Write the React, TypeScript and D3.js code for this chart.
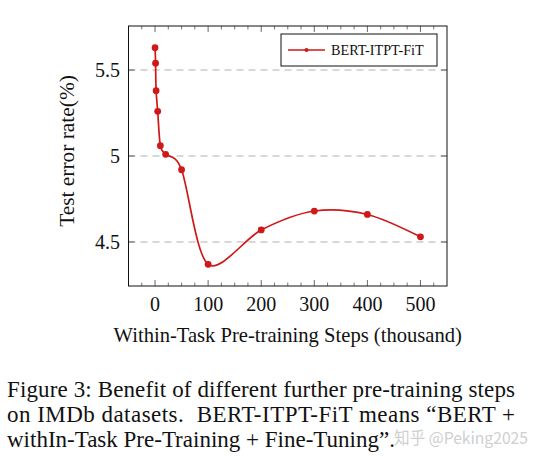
import React from "react";
import * as d3 from "d3";

// within-task pre-training steps (thousand) and test error rate (%)
const steps = [0, 1, 2, 5, 10, 20, 50, 100, 200, 300, 400, 500];
const errorRate = [5.63, 5.54, 5.38, 5.26, 5.06, 5.01, 4.92, 4.37, 4.57, 4.68, 4.66, 4.53];

const xTicks = [0, 100, 200, 300, 400, 500];
const yTicks = [4.5, 5, 5.5];
const yTickLabels = ["4.5", "5", "5.5"];
const seriesName = "BERT-ITPT-FiT";

const captionLines = [
  "Figure 3: Benefit of different further pre-training steps",
  "on IMDb datasets.  BERT-ITPT-FiT means \u201cBERT +",
  "withIn-Task Pre-Training + Fine-Tuning\u201d.",
];
const watermark = "知乎 @Peking2025";

const W = 547;
const H = 465;
const box = { left: 128.5, right: 447, top: 26, bottom: 286 };
const serif = "'Liberation Serif', 'Times New Roman', serif";
const red = "#d01818";

const App: React.FC = () => {
  const x = d3.scaleLinear().domain([-50, 550]).range([box.left, box.right]);
  const y = d3.scaleLinear().domain([4.244, 5.756]).range([box.bottom, box.top]);

  const pts: [number, number][] = steps.map((s, i) => [x(s), y(errorRate[i])]);
  const line = d3.line().curve(d3.curveCardinal.tension(0.09));
  const path = line(pts) || "";

  const minorTicks = d3.range(-25, 550, 25).filter((v) => v % 100 !== 0);

  return (
    <svg
      width={W}
      height={H}
      viewBox={`0 0 ${W} ${H}`}
      style={{ position: "absolute", left: 0, top: 0, background: "#fff" }}
    >
      {/* grid */}
      {yTicks.map((t) => (
        <line
          key={"g" + t}
          x1={box.left}
          x2={box.right}
          y1={y(t)}
          y2={y(t)}
          stroke="#a8a8a8"
          strokeWidth={0.9}
          strokeDasharray="7 5"
        />
      ))}

      {/* x ticks, top and bottom */}
      {minorTicks.map((t) => (
        <g key={"m" + t} stroke="#555" strokeWidth={0.8}>
          <line x1={x(t)} x2={x(t)} y1={box.bottom} y2={box.bottom - 3.5} />
          <line x1={x(t)} x2={x(t)} y1={box.top} y2={box.top + 3.5} />
        </g>
      ))}
      {xTicks.map((t) => (
        <g key={"M" + t} stroke="#444" strokeWidth={0.8}>
          <line x1={x(t)} x2={x(t)} y1={box.bottom} y2={box.bottom - 6} />
          <line x1={x(t)} x2={x(t)} y1={box.top} y2={box.top + 6} />
        </g>
      ))}
      {/* y ticks, left and right */}
      {yTicks.map((t) => (
        <g key={"y" + t} stroke="#444" strokeWidth={0.8}>
          <line x1={box.left} x2={box.left + 6} y1={y(t)} y2={y(t)} />
          <line x1={box.right} x2={box.right - 6} y1={y(t)} y2={y(t)} />
        </g>
      ))}

      {/* frame */}
      <rect
        x={box.left}
        y={box.top}
        width={box.right - box.left}
        height={box.bottom - box.top}
        fill="none"
        stroke="#111"
        strokeWidth={1}
      />

      {/* series */}
      <path d={path} fill="none" stroke={red} strokeWidth={1.7} />
      {pts.map(([px, py], i) => (
        <circle key={"p" + i} cx={px} cy={py} r={3.4} fill={red} />
      ))}

      {/* tick labels */}
      {xTicks.map((t) => (
        <text
          key={"xl" + t}
          x={x(t)}
          y={311}
          textAnchor="middle"
          fontFamily={serif}
          fontSize={20}
          fill="#111"
        >
          {t}
        </text>
      ))}
      {yTicks.map((t, i) => (
        <text
          key={"yl" + t}
          x={120}
          y={y(t) + 7}
          textAnchor="end"
          fontFamily={serif}
          fontSize={20}
          fill="#111"
        >
          {yTickLabels[i]}
        </text>
      ))}

      {/* axis titles */}
      <text
        x={(box.left + box.right) / 2}
        y={342}
        textAnchor="middle"
        fontFamily={serif}
        fontSize={20.6}
        fill="#111"
      >
        Within-Task Pre-training Steps (thousand)
      </text>
      <text
        transform={`translate(74,151) rotate(-90)`}
        textAnchor="middle"
        fontFamily={serif}
        fontSize={21.4}
        fill="#111"
      >
        Test error rate(%)
      </text>

      {/* legend */}
      <rect x={281} y={34} width={156} height={32} fill="#fff" stroke="#111" strokeWidth={1} />
      <line x1={288} x2={325} y1={50} y2={50} stroke={red} strokeWidth={1.7} />
      <circle cx={306.5} cy={50} r={2} fill={red} />
      <text x={331} y={55} fontFamily={serif} fontSize={14.2} fill="#111">
        {seriesName}
      </text>

      {/* caption */}
      {captionLines.map((c, i) => (
        <text
          key={"c" + i}
          x={7}
          y={397 + i * 25}
          fontFamily={serif}
          fontSize={23}
          fill="#111"
          textLength={i < 2 ? 508 : undefined}
          lengthAdjust="spacing"
          style={{ whiteSpace: "pre" }}
        >
          {c}
        </text>
      ))}
      <text
        x={394}
        y={444}
        fontFamily="'Noto Sans CJK SC', 'Noto Sans', sans-serif"
        fontSize={16.5}
        fill="#cfcfcf"
        textLength={134}
        lengthAdjust="spacingAndGlyphs"
      >
        {watermark}
      </text>
    </svg>
  );
};

export default App;
